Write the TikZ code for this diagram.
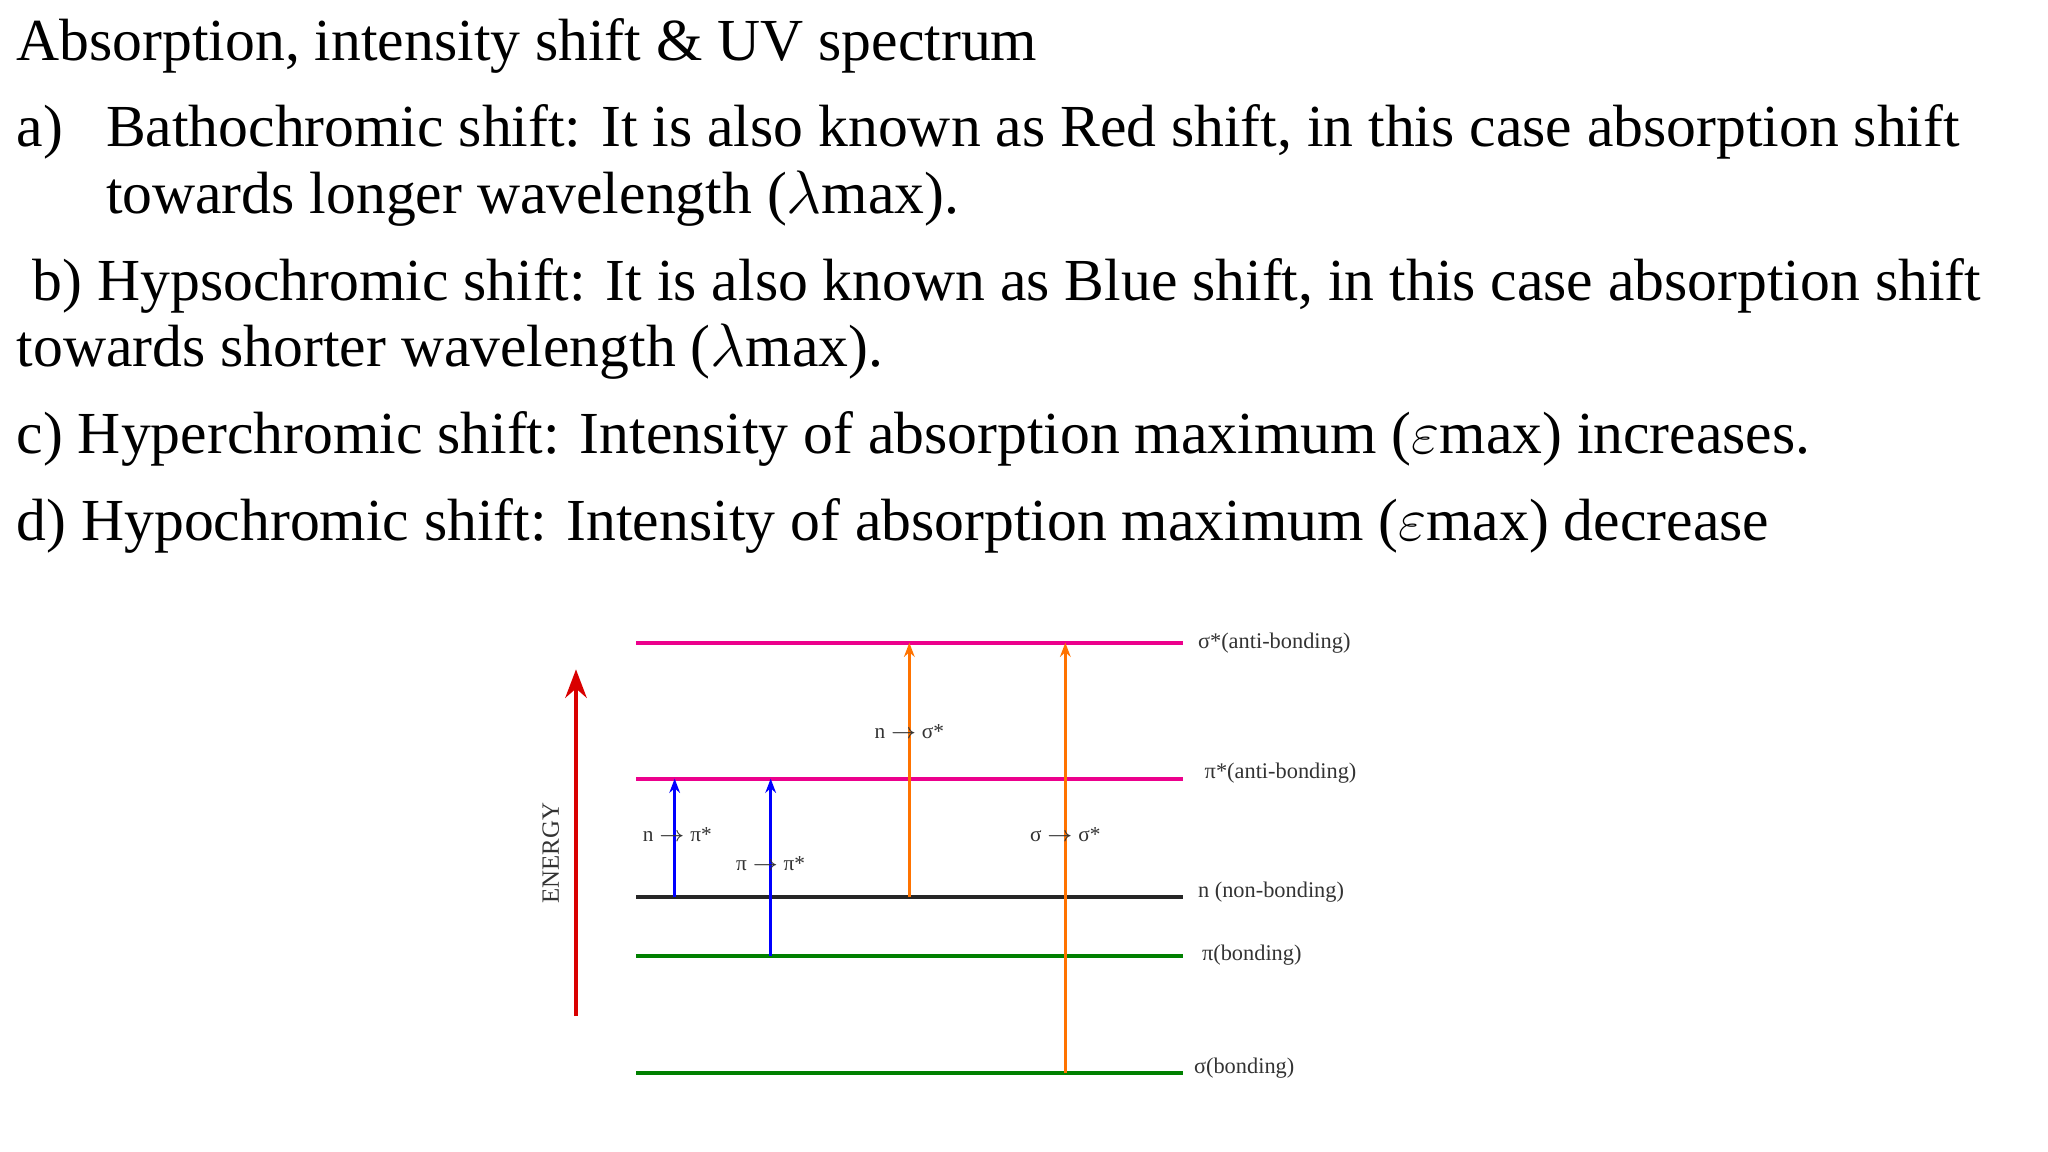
\documentclass[tikz,border=0pt]{standalone}
\usepackage{fontspec}
\setmainfont{Liberation Serif}
\usetikzlibrary{arrows.meta}
\begin{document}
\begin{tikzpicture}[x=0.0132cm,y=-0.0132cm,
  body/.style={anchor=base west,inner sep=0pt,font=\fontsize{16.8}{20}\selectfont},
  lvl/.style={line width=1.2pt},
  lab/.style={anchor=west,inner sep=0pt,font=\fontsize{6.3}{7}\selectfont,text=black!80},
  tlab/.style={inner sep=0pt,font=\fontsize{6}{7}\selectfont,text=black!80},
  tr/.style={line width=1pt,-{Stealth[length=4pt,width=3pt]}}]
\useasboundingbox (0,0) rectangle (1536,864);
\node[body] (t0) at (12,45) {Absorption, intensity shift \& UV spectrum};
\node[body] (a1) at (12,110) {a)};
\node[body] (a2) at (79,110) {Bathochromic shift: It is also known as Red shift, in this case absorption shift};
\node[body] (a3) at (79,160) {towards longer wavelength ($\lambda$max).};
\node[body] (b1) at (24,225) {b) Hypsochromic shift: It is also known as Blue shift, in this case absorption shift};
\node[body] (b2) at (12,275) {towards shorter wavelength ($\lambda$max).};
\node[body] (c1) at (12,340) {c) Hyperchromic shift: Intensity of absorption maximum ($\varepsilon$max) increases.};
\node[body] (d1) at (12,405) {d) Hypochromic shift: Intensity of absorption maximum ($\varepsilon$max) decrease};
% levels
\coordinate (s1L) at (477,482); \coordinate (s1R) at (887,482);
\coordinate (p1L) at (477,584); \coordinate (p1R) at (887,584);
\coordinate (nL) at (477,673); \coordinate (nR) at (887,673);
\coordinate (pL) at (477,717); \coordinate (pR) at (887,717);
\coordinate (sL) at (477,805); \coordinate (sR) at (887,805);
\draw[lvl,magenta] (s1L) -- (s1R);
\draw[lvl,magenta] (p1L) -- (p1R);
\draw[lvl,black!85] (nL) -- (nR);
\draw[lvl,green!50!black] (pL) -- (pR);
\draw[lvl,green!50!black] (sL) -- (sR);
\node[lab] (ls1) at (898,482) {σ*(anti-bonding)};
\node[lab] (lp1) at (903,580) {π*(anti-bonding)};
\node[lab] (ln) at (898,669) {n (non-bonding)};
\node[lab] (lp) at (901,716) {π(bonding)};
\node[lab] (ls) at (895,801) {σ(bonding)};
% energy
\coordinate (e0) at (432,762); \coordinate (e1) at (432,502);
\draw[line width=1.2pt,red!85!black,-{Stealth[length=8pt,width=6pt]}] (e0) -- (e1);
\node[tlab,rotate=90,font=\fontsize{7}{8}\selectfont] (en) at (413,640) {ENERGY};
% transitions
\coordinate (a0) at (506,673); \coordinate (a1t) at (506,584);
\coordinate (b0) at (578,717); \coordinate (b1t) at (578,584);
\coordinate (c0) at (682,673); \coordinate (c1t) at (682,482);
\coordinate (d0) at (799,805); \coordinate (d1t) at (799,482);
\draw[tr,blue] (a0) -- (a1t);
\draw[tr,blue] (b0) -- (b1t);
\draw[tr,orange!90!red] (c0) -- (c1t);
\draw[tr,orange!90!red] (d0) -- (d1t);
\node[tlab] (ta) at (508,626) {n $\rightarrow$ π*};
\node[tlab] (tb) at (578,648) {π $\rightarrow$ π*};
\node[tlab] (tc) at (682,549) {n $\rightarrow$ σ*};
\node[tlab] (td) at (799,626) {σ $\rightarrow$ σ*};
\end{tikzpicture}
\end{document}
